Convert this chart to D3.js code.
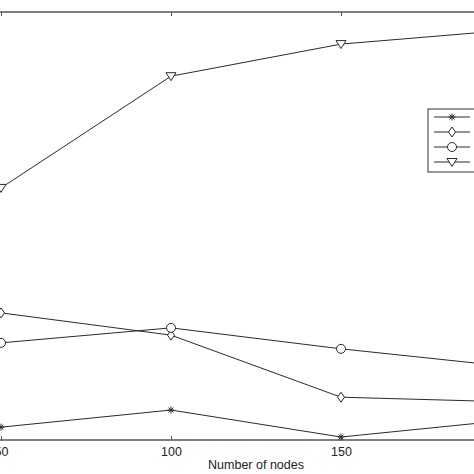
<!DOCTYPE html>
<html><head><meta charset="utf-8">
<script src="https://cdn.jsdelivr.net/npm/d3@7"></script>
<style>body{margin:0;background:#fff}svg{display:block}</style>
</head><body>
<svg id="c" width="474" height="474"></svg>
<script>
const nodes = [50, 100, 150, 200];
const seriesStar = [3.0, 7.0, 0.7, 4.7];
const seriesDiamond = [29.7, 24.5, 10.0, 8.9];
const seriesCircle = [22.7, 26.2, 21.3, 17.1];
const seriesTriangle = [58.9, 85.0, 92.5, 95.8];
const xTicks = [50, 100, 150, 200];
const xLabel = "Number of nodes";

const svg = d3.select("#c");
const x = d3.scaleLinear().domain([50, 200]).range([1, 511]);
const y = d3.scaleLinear().domain([0, 100]).range([440, 12]);
const lineColor = "#2a2a2a";
const axisColor = "#555";

// axes
const bottomAxisG = svg.append("g").attr("transform", "translate(0,440)")
  .call(d3.axisBottom(x).tickValues(xTicks).tickSizeInner(-4).tickSizeOuter(0).tickPadding(7));
const topAxisG = svg.append("g").attr("transform", "translate(0,12)")
  .call(d3.axisTop(x).tickValues(xTicks).tickSizeInner(-4).tickSizeOuter(0).tickFormat(""));
[bottomAxisG, topAxisG].forEach(g => {
  g.select(".domain").remove();
  g.selectAll(".tick line").attr("stroke", axisColor).attr("stroke-width", 1);
  g.selectAll(".tick text").attr("fill", "#222").style("font-family", "Liberation Sans, Arial, sans-serif").style("font-size", "12.5px");
});
svg.append("line").attr("x1", 0).attr("x2", 474).attr("y1", 440).attr("y2", 440).attr("stroke", axisColor).attr("stroke-width", 1.6);
svg.append("line").attr("x1", 0).attr("x2", 474).attr("y1", 12).attr("y2", 12).attr("stroke", axisColor).attr("stroke-width", 1.6);

svg.append("text").attr("x", 256).attr("y", 469).attr("text-anchor", "middle")
  .style("font-family", "Liberation Sans, Arial, sans-serif").style("font-size", "12.5px").attr("fill", "#222")
  .text(xLabel);

// marker drawing
function drawMarker(g, type, cx, cy) {
  if (type === "star") {
    const r = 3.5;
    [[0, -r, 0, r], [-r, 0, r, 0], [-r*0.7, -r*0.7, r*0.7, r*0.7], [-r*0.7, r*0.7, r*0.7, -r*0.7]].forEach(l => {
      g.append("line").attr("x1", cx + l[0]).attr("y1", cy + l[1]).attr("x2", cx + l[2]).attr("y2", cy + l[3])
        .attr("stroke", lineColor).attr("stroke-width", 1);
    });
  } else if (type === "diamond") {
    g.append("path").attr("d", `M${cx},${cy-5}L${cx+3.5},${cy}L${cx},${cy+5}L${cx-3.5},${cy}Z`)
      .attr("fill", "white").attr("stroke", lineColor).attr("stroke-width", 1);
  } else if (type === "circle") {
    g.append("circle").attr("cx", cx).attr("cy", cy).attr("r", 4.5)
      .attr("fill", "white").attr("stroke", lineColor).attr("stroke-width", 1);
  } else if (type === "triangle") {
    g.append("path").attr("d", `M${cx-5},${cy-3.5}L${cx+5},${cy-3.5}L${cx},${cy+4.5}Z`)
      .attr("fill", "white").attr("stroke", lineColor).attr("stroke-width", 1);
  }
}

const series = [
  {type: "star", values: seriesStar},
  {type: "diamond", values: seriesDiamond},
  {type: "circle", values: seriesCircle},
  {type: "triangle", values: seriesTriangle}
];
const line = d3.line().x((d, i) => x(nodes[i])).y(d => y(d));
series.forEach(s => {
  const g = svg.append("g");
  g.append("path").attr("d", line(s.values)).attr("fill", "none").attr("stroke", lineColor).attr("stroke-width", 1);
  s.values.forEach((v, i) => drawMarker(g, s.type, x(nodes[i]), y(v)));
});

// legend (partially cropped at right edge)
const lg = svg.append("g");
lg.append("rect").attr("x", 428).attr("y", 109).attr("width", 80).attr("height", 63)
  .attr("fill", "white").attr("stroke", "#333").attr("stroke-width", 1);
const legendY = [117, 132, 147, 162];
series.forEach((s, i) => {
  lg.append("line").attr("x1", 434).attr("x2", 470).attr("y1", legendY[i]).attr("y2", legendY[i])
    .attr("stroke", lineColor).attr("stroke-width", 1);
  drawMarker(lg, s.type, 452, legendY[i]);
});
</script>
</body></html>
